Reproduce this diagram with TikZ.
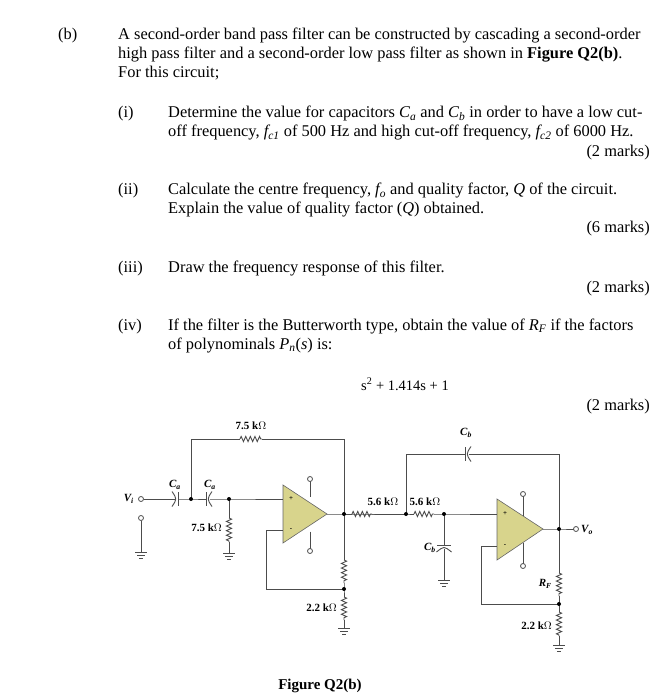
\documentclass[tikz,border=0pt]{standalone}
\usepackage{fontspec}
\setmainfont{Liberation Serif}
\usetikzlibrary{decorations.pathmorphing}
\begin{document}
\begin{tikzpicture}[x=1pt,y=-1pt,
  txt/.style={anchor=base west,inner sep=0pt,font=\fontsize{16.4}{18}\selectfont},
  txr/.style={anchor=base east,inner sep=0pt,font=\fontsize{16.4}{18}\selectfont},
  lab/.style={inner sep=0pt,font=\fontsize{11}{12}\selectfont\bfseries},
  wire/.style={draw=black!70,line width=0.9pt},
  res/.style={wire,decorate,decoration={zigzag,amplitude=2.6pt,segment length=4.6pt}},
  dot/.style={circle,fill=black,inner sep=0pt,minimum size=4pt},
  term/.style={circle,draw=black!70,fill=white,line width=0.8pt,inner sep=0pt,minimum size=5pt},
  opamp/.style={draw=black!60,fill=olive!35!white,line width=0.6pt}]
\useasboundingbox (0,0) rectangle (667,700);
% ---------- text ----------
\node[txt] (b) at (58,40) {(b)};
\node[txt] (p1) at (118,40) {A second-order band pass filter can be constructed by cascading a second-order};
\node[txt] (p2) at (118,59) {high pass filter and a second-order low pass filter as shown in \textbf{Figure Q2(b)}.};
\node[txt] (p3) at (118,78) {For this circuit;};
\node[txt] (i) at (118,118) {(i)};
\node[txt] (i1) at (168,118) {Determine the value for capacitors \textit{C\textsubscript{a}} and \textit{C\textsubscript{b}} in order to have a low cut-};
\node[txt] (i2) at (168,137) {off frequency, \textit{f\textsubscript{c1}} of 500 Hz and high cut-off frequency, \textit{f\textsubscript{c2}} of 6000 Hz.};
\node[txr] (m1) at (650,157) {(2 marks)};
\node[txt] (ii) at (118,195) {(ii)};
\node[txt] (ii1) at (168,195) {Calculate the centre frequency, \textit{f\textsubscript{o}} and quality factor, \textit{Q} of the circuit.};
\node[txt] (ii2) at (168,214) {Explain the value of quality factor (\textit{Q}) obtained.};
\node[txr] (m2) at (650,233) {(6 marks)};
\node[txt] (iii) at (118,272) {(iii)};
\node[txt] (iii1) at (168,272) {Draw the frequency response of this filter.};
\node[txr] (m3) at (650,292) {(2 marks)};
\node[txt] (iv) at (118,330) {(iv)};
\node[txt] (iv1) at (168,330) {If the filter is the Butterworth type, obtain the value of \textit{R\textsubscript{F}} if the factors};
\node[txt] (iv2) at (168,349) {of polynominals \textit{P\textsubscript{n}}(\textit{s}) is:};
\node[anchor=base,inner sep=0pt,font=\fontsize{14.5}{16}\selectfont] (eq) at (405,390) {s\textsuperscript{2} + 1.414s + 1};
\node[txr] (m4) at (650,410) {(2 marks)};
\node[anchor=base,inner sep=0pt,font=\fontsize{15}{16}\selectfont\bfseries] (fig) at (320,689) {Figure Q2(b)};
% ---------- coordinates ----------
\coordinate (vi) at (141,499);
\coordinate (n1) at (191,499);
\coordinate (n2) at (229,499);
\coordinate (t1) at (191,439);
\coordinate (t2) at (344,439);
\coordinate (o1) at (344,514);
\coordinate (f1) at (344,589);
\coordinate (n3) at (406,514);
\coordinate (n4) at (444,514);
\coordinate (o2) at (559,529);
\coordinate (f2) at (559,604);
% ---------- op-amps ----------
\draw[opamp] (283,485) -- (327,514) -- (283,543) -- cycle;
\node[font=\scriptsize\bfseries,inner sep=0pt] (pl1) at (291,499) {+};
\node[font=\scriptsize\bfseries,inner sep=0pt] (mi1) at (291,530) {-};
\draw[wire] (310,481) -- (310,496.5) (310,531.5) -- (310,549);
\node[term] (s1a) at (310,479) {}; \node[term] (s1b) at (310,551) {};
\draw[opamp] (497,499) -- (543,529) -- (497,560) -- cycle;
\node[font=\scriptsize\bfseries,inner sep=0pt] (pl2) at (505,514) {+};
\node[font=\scriptsize\bfseries,inner sep=0pt] (mi2) at (505,546) {-};
\draw[wire] (523,496) -- (523,516) (523,543) -- (523,564);
\node[term] (s2a) at (523,494) {}; \node[term] (s2b) at (523,566) {};
% ---------- stage 1 ----------
\node[term] (vin) at (vi) {};
\node[lab,anchor=east] (vil) at (134,499) {\textit{V\textsubscript{i}}};
\draw[wire] (vin) -- (175,499);
\draw[wire] (172,491.5) .. controls (177,499) .. (172,506.5);
\draw[wire] (178,492) -- (178,506);
\draw[wire] (178,499) -- (n1) -- (206,499);
\draw[wire] (206,492) -- (206,506);
\draw[wire] (212,491.5) .. controls (207,499) .. (212,506.5);
\draw[wire] (209.5,499) -- (n2) -- (283,499);
\node[lab] (cal1) at (175,485) {\textit{C\textsubscript{a}}};
\node[lab] (cal2) at (210,485) {\textit{C\textsubscript{a}}};
\draw[wire] (n1) -- (t1) -- (240,439);
\draw[res] (240,439) -- (262,439);
\draw[wire] (262,439) -- (t2) -- (o1);
\node[lab] (r1l) at (251,426) {7.5 k$\Omega$};
\draw[wire] (327,514) -- (o1) -- (n3);
\draw[wire] (n2) -- (229,518);
\draw[res] (229,518) -- (229,542);
\draw[wire] (229,542) -- (229,553);
\draw[wire] (223,553) -- (235,553) (225,556) -- (233,556) (227,559) -- (231,559);
\node[lab,anchor=east] (r2l) at (222,528) {7.5 k$\Omega$};
\draw[wire] (o1) -- (344,560);
\draw[res] (344,560) -- (344,583);
\draw[wire] (344,583) -- (f1) -- (344,597);
\draw[res] (344,597) -- (344,620);
\draw[wire] (344,620) -- (344,628);
\draw[wire] (338,628) -- (350,628) (340,631) -- (348,631) (342,634) -- (346,634);
\node[lab,anchor=east] (r4l) at (337,608) {2.2 k$\Omega$};
\draw[wire] (f1) -- (266,589) -- (266,530) -- (283,530);
% vi ground terminal
\node[term] (gt) at (141,518) {};
\draw[wire] (gt) -- (141,552);
\draw[wire] (135,552) -- (147,552) (137,555) -- (145,555) (139,558) -- (143,558);
% ---------- stage 2 ----------
\draw[res] (352,514) -- (372,514);
\draw[wire] (344,514) -- (352,514) (372,514) -- (n3) -- (414,514);
\draw[res] (414,514) -- (434,514);
\draw[wire] (434,514) -- (n4) -- (497,514);
\node[lab] (r5l) at (383,502) {5.6 k$\Omega$};
\node[lab] (r6l) at (425,502) {5.6 k$\Omega$};
\draw[wire] (n3) -- (406,454) -- (465,454);
\draw[wire] (465,447) -- (465,461);
\draw[wire] (471,446.5) .. controls (466,454) .. (471,461.5);
\draw[wire] (468.5,454) -- (559,454) -- (o2);
\node[lab] (cbl1) at (466,433) {\textit{C\textsubscript{b}}};
\draw[wire] (n4) -- (444,545);
\draw[wire] (437,545) -- (451,545);
\draw[wire] (436.5,552) .. controls (444,546) .. (451.5,552);
\draw[wire] (444,549) -- (444,580);
\draw[wire] (438,580) -- (450,580) (440,583) -- (448,583) (442,586) -- (446,586);
\node[lab,anchor=east] (cbl2) at (436,548) {\textit{C\textsubscript{b}}};
\draw[wire] (543,529) -- (o2) -- (574,529);
\node[term] (vo) at (576,529) {};
\node[lab,anchor=west] (vol) at (581,530) {\textit{V\textsubscript{o}}};
\draw[wire] (o2) -- (559,573);
\draw[res] (559,573) -- (559,596);
\draw[wire] (559,596) -- (f2) -- (559,612);
\draw[res] (559,612) -- (559,636);
\draw[wire] (559,636) -- (559,645);
\draw[wire] (553,645) -- (565,645) (555,648) -- (563,648) (557,651) -- (561,651);
\node[lab,anchor=east] (rfl) at (552,584) {\textit{R\textsubscript{F}}};
\node[lab,anchor=east] (r7l) at (552,626) {2.2 k$\Omega$};
\draw[wire] (f2) -- (481,604) -- (481,546) -- (497,546);
\foreach \p in {n1,n2,o1,f1,n3,n4,o2,f2} \node[dot] at (\p) {};
\end{tikzpicture}
\end{document}
